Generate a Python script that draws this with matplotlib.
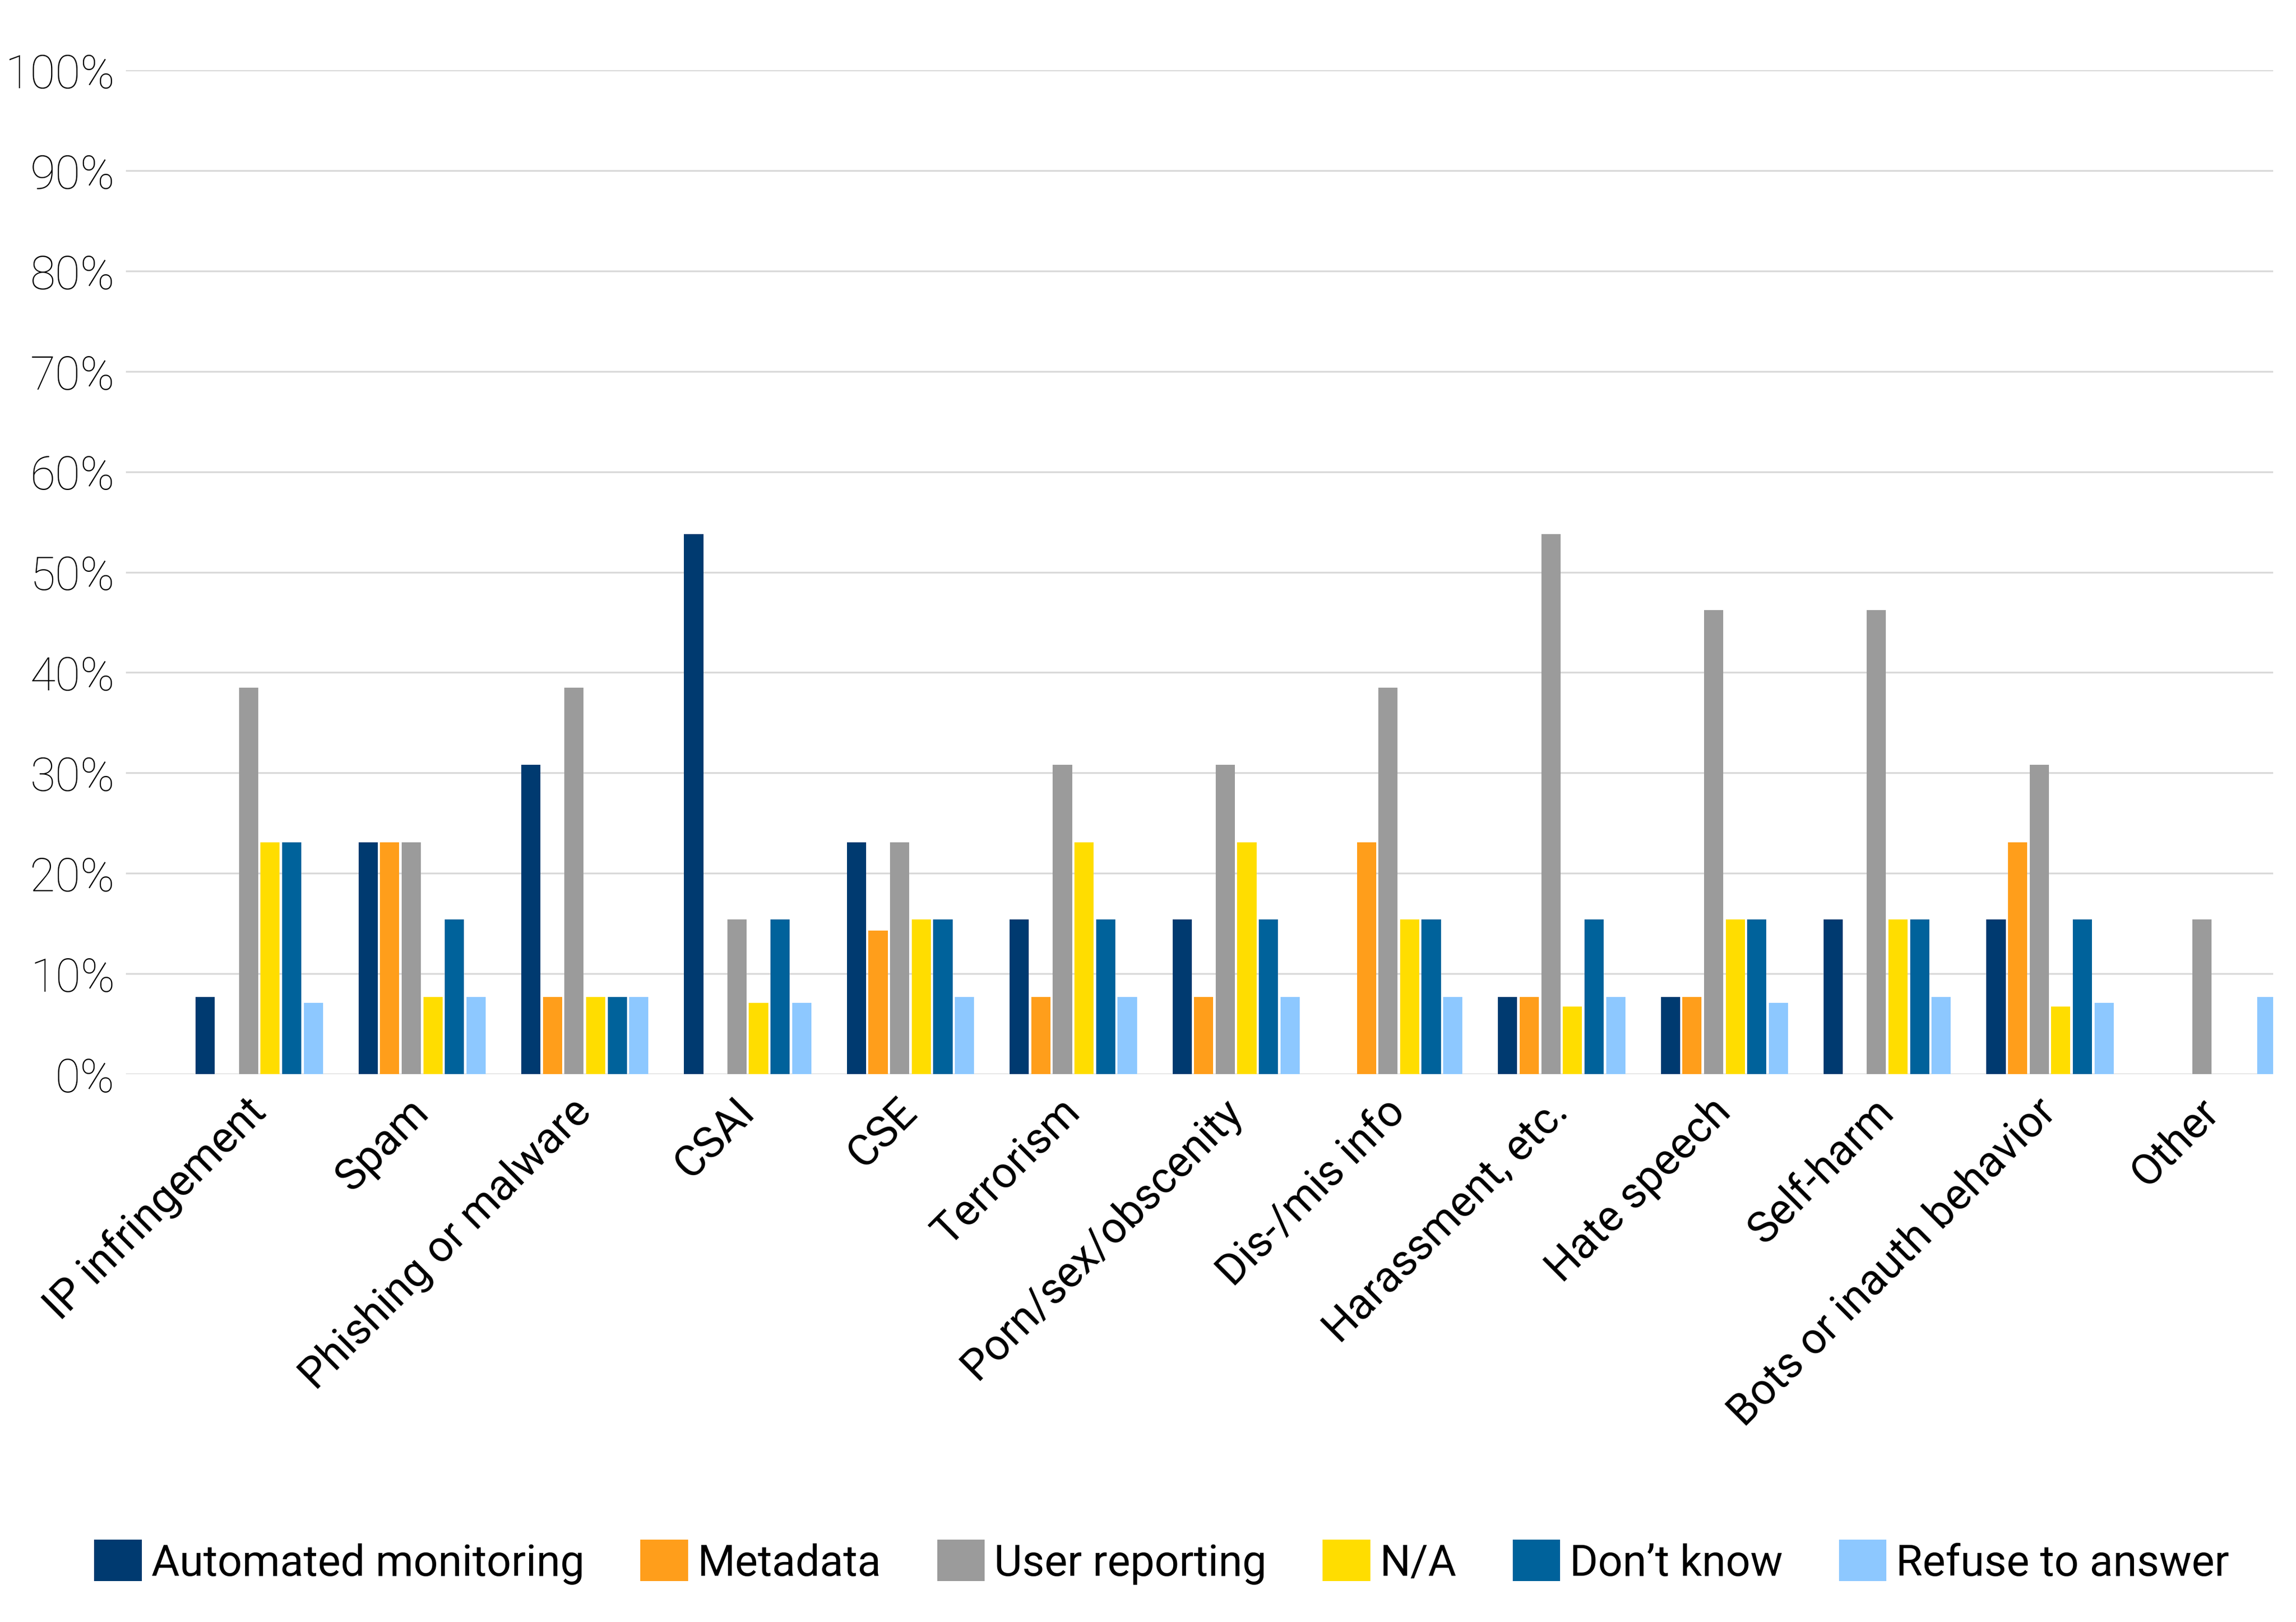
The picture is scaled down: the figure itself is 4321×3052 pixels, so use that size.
import numpy as np
import matplotlib
matplotlib.use("Agg")
import matplotlib.pyplot as plt
from matplotlib.ticker import PercentFormatter

plt.rcParams["font.family"] = ["Roboto", "DejaVu Sans"]

categories = ["IP infringement", "Spam", "Phishing or malware", "CSAI", "CSE",
              "Terrorism", "Porn/sex/obscenity", "Dis-/mis info", "Harassment, etc.",
              "Hate speech", "Self-harm", "Bots or inauth behavior", "Other"]

series = ["Automated monitoring", "Metadata", "User reporting", "N/A",
          "Don\u2019t know", "Refuse to answer"]

automated = [7.7, 23.1, 30.8, 53.8, 23.1, 15.4, 15.4, 0, 7.7, 7.7, 15.4, 15.4, 0]
metadata = [0, 23.1, 7.7, 0, 14.3, 7.7, 7.7, 23.1, 7.7, 7.7, 0, 23.1, 0]
user_reporting = [38.5, 23.1, 38.5, 15.4, 23.1, 30.8, 30.8, 38.5, 53.8, 46.2, 46.2, 30.8, 15.4]
not_applicable = [23.1, 7.7, 7.7, 7.1, 15.4, 23.1, 23.1, 15.4, 6.7, 15.4, 15.4, 6.7, 0]
dont_know = [23.1, 15.4, 7.7, 15.4, 15.4, 15.4, 15.4, 15.4, 15.4, 15.4, 15.4, 15.4, 0]
refuse = [7.1, 7.7, 7.7, 7.1, 7.7, 7.7, 7.7, 7.7, 7.7, 7.1, 7.7, 7.1, 7.7]

values = [automated, metadata, user_reporting, not_applicable, dont_know, refuse]
colors = ["#003A70", "#FF9E1B", "#9B9B9B", "#FFDD00", "#00629B", "#8DC8FF"]

fig = plt.figure(figsize=(4321 / 300, 3053 / 300), dpi=300)
ax = fig.add_axes([0.0548, 0.3377, 0.9352, 0.6187])

x = np.arange(len(categories))
pitch = 0.1327
width = 0.118
for i, (name, vals, c) in enumerate(zip(series, values, colors)):
    offs = (i - 2.5) * pitch
    ax.bar(x + offs, np.array(vals) / 100, width, color=c, label=name, zorder=3)

ax.set_ylim(0, 1)
ax.set_xlim(-0.82, 12.37)
ax.set_yticks(np.arange(0, 1.01, 0.1))
ax.yaxis.set_major_formatter(PercentFormatter(1.0, decimals=0))
ax.grid(axis="y", color="#D9D9D9", linewidth=0.8, zorder=0)
for s in ax.spines.values():
    s.set_visible(False)
ax.tick_params(axis="y", length=0, pad=5, labelsize=20.8)
for t in ax.get_yticklabels():
    t.set_fontweight("light")

ax.set_xticks(x)
ax.set_xticklabels(categories, rotation=45, ha="right", va="center",
                   rotation_mode="anchor", fontsize=19.5)
ax.tick_params(axis="x", length=0, pad=14)

fig.legend(loc="center", bbox_to_anchor=(0.506, 0.037), ncol=6, frameon=False,
           fontsize=19.5, handlelength=1.1, handleheight=1.1,
           handletextpad=0.22, columnspacing=1.3, borderpad=0)

fig.savefig("out.png", dpi=300)
